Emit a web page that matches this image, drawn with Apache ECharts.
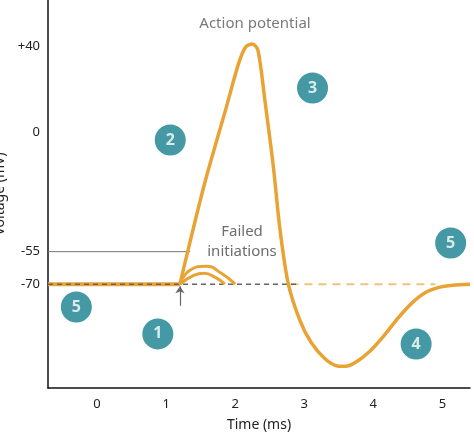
<!DOCTYPE html><html><head><meta charset="utf-8"><script src="https://cdn.jsdelivr.net/npm/echarts@6/dist/echarts.min.js"></script>
<style>html,body{margin:0;background:#fff}#c{width:474px;height:438px}</style></head><body><div id="c"></div><script>
const xTicks=[0,1,2,3,4,5];
const yTicks=[40,0,-55,-70];
const yTickLabels={40:'+40',0:'0','-55':'-55','-70':'-70'};
const actionPotential=[[1.2,-70],[1.35,-50],[1.57,-22],[1.86,10.4],[2.05,32],[2.15,39.5],[2.25,41],[2.33,38],[2.43,15],[2.55,-15],[2.65,-45],[2.77,-70],[2.94,-87],[3.1,-97],[3.3,-104.5],[3.48,-107.8],[3.6,-108],[3.75,-106],[3.95,-101],[4.15,-94],[4.35,-86],[4.55,-79],[4.75,-74],[4.95,-71.5],[5.15,-70.5],[5.4,-70]];
const failed1=[[1.2,-70],[1.35,-63.5],[1.58,-61.7],[1.8,-65],[2.0,-70]];
const failed2=[[1.2,-70],[1.4,-66],[1.55,-65],[1.72,-67],[1.85,-70]];
const restStart=[[-0.71,-70],[1.2,-70]];
const restFull=[[-0.71,-70],[2.9,-70]];
const restFade=[[2.8,-70],[4.9,-70]];
const thresholdLine=[[-0.71,-55],[1.35,-55]];
const stageLabels=['3','2','5','1','4','5'];
const stageX=[3.12,1.06,-0.3,0.88,4.62,5.12];
const stageY=[20.6,-3.4,-80.6,-93,-97.7,-51];
const OR='#e9a334';
const c=echarts.init(document.getElementById('c'));
c.setOption({animation:false,
grid:{left:48,right:4,top:0,bottom:50,outerBoundsMode:'none',containLabel:false},
xAxis:{type:'value',min:-0.71,max:5.4,splitLine:{show:false},axisLine:{onZero:false,lineStyle:{color:'#111',width:1.5}},axisTick:{show:false},
 axisLabel:{customValues:xTicks,color:'#222',fontSize:13,margin:10,fontFamily:'Noto Sans'},
 name:'Time (ms)',nameLocation:'middle',nameGap:30,nameTextStyle:{color:'#222',fontSize:14,fontFamily:'Noto Sans'}},
yAxis:{type:'value',min:-118,max:61.3,splitLine:{show:false},axisLine:{show:true,onZero:false,lineStyle:{color:'#111',width:1.5}},axisTick:{show:false},
 axisLabel:{customValues:yTicks,formatter:v=>yTickLabels[v],color:'#222',fontSize:13,margin:8,fontFamily:'Noto Sans'},
 name:'Voltage (mV)',nameLocation:'middle',nameGap:34,nameTextStyle:{color:'#222',fontSize:14,fontFamily:'Noto Sans'}},
graphic:[
 {type:'text',x:255,y:16,style:{text:'Action potential',fill:'#7a7a7a',font:'15px Noto Sans',textAlign:'center'}},
 {type:'text',x:242,y:222,style:{text:'Failed\ninitiations',fill:'#6e6e6e',font:'15px Noto Sans',textAlign:'center',lineHeight:20}}
],
series:[
 {type:'line',data:thresholdLine,symbol:'none',lineStyle:{color:'#777',width:1}},
 {type:'line',data:restStart,symbol:'none',lineStyle:{color:OR,width:4}},
 {type:'line',data:restFade,symbol:'none',lineStyle:{color:'#f0c27a',width:2,type:[8,6]}},
 {type:'line',data:restFull,symbol:'none',lineStyle:{color:'#666',width:1.5,type:[5,4]}},
 {type:'line',data:failed1,smooth:true,symbol:'none',lineStyle:{color:OR,width:3}},
 {type:'line',data:failed2,smooth:true,symbol:'none',lineStyle:{color:OR,width:3}},
 {type:'line',data:actionPotential,smooth:0.3,symbol:'none',lineStyle:{color:OR,width:3.5},
  markLine:{silent:true,symbol:['none','arrow'],symbolSize:7,label:{show:false},lineStyle:{color:'#666',width:1.2,type:'solid'},
   data:[[{coord:[1.2,-80]},{coord:[1.2,-71]}]]}},
 {type:'scatter',data:stageX.map((x,i)=>[x,stageY[i]]),symbolSize:31,itemStyle:{color:'#15808f'},
  label:{show:true,position:'inside',formatter:p=>stageLabels[p.dataIndex],color:'#fff',fontSize:16,fontWeight:'bold',fontFamily:'Noto Sans'}}
]});
</script></body></html>
